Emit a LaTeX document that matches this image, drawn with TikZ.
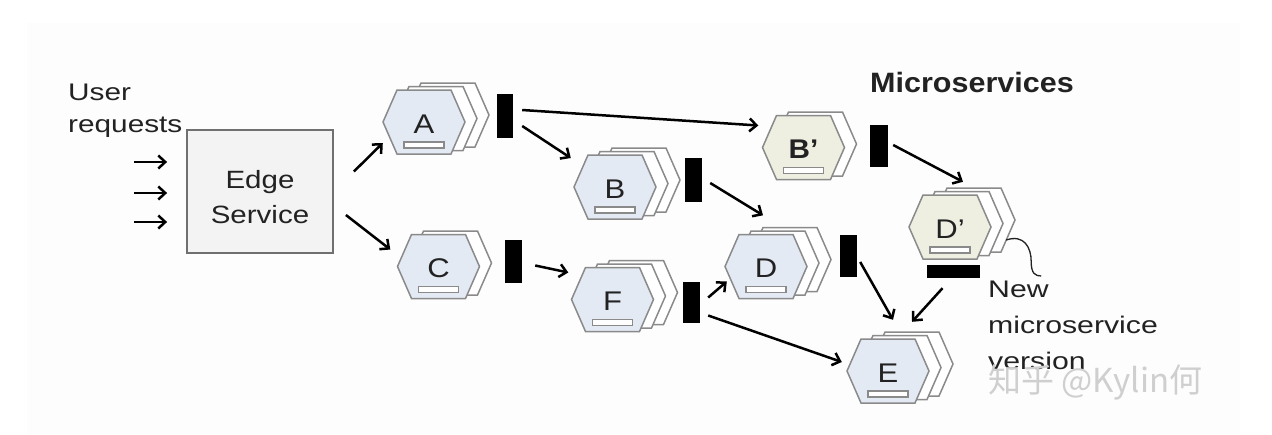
\documentclass[tikz,border=0pt]{standalone}
\usepackage{graphicx}
\usepackage{fontspec}
\setmainfont{Liberation Sans}
\newfontfamily\cjk{Noto Sans CJK SC}
\usetikzlibrary{arrows.meta,calc}
\definecolor{hexline}{HTML}{8A8A8A}
\definecolor{hexblue}{HTML}{E3EAF4}
\definecolor{hexbeige}{HTML}{EEEFE1}
\definecolor{edgefill}{HTML}{F3F3F3}
\definecolor{edgeline}{HTML}{707070}
\definecolor{wmgray}{HTML}{CFCFCF}
\definecolor{txt}{HTML}{222222}
\definecolor{bgc}{HTML}{FDFDFD}
\newcommand{\sx}[2][1.24]{\scalebox{#1}[1]{#2}}
\newcommand{\hexat}[3]{\filldraw[fill=#3,draw=hexline,line width=1.5] (#1-41,#2) -- (#1-27,#2-32) -- (#1+27,#2-32) -- (#1+41,#2) -- (#1+27,#2+32) -- (#1-27,#2+32) -- cycle;}
\newcommand{\hexstack}[6]{%
  \ifnum#4>2 \hexat{#2+24}{#3-7}{white}\fi
  \ifnum#4>1 \hexat{#2+12}{#3-3.5}{white}\fi
  \hexat{#2}{#3}{#5}
  \filldraw[fill=white,draw=hexline,line width=1.6] (#2-20,#3+20) rectangle (#2+20,#3+26);
  \node[hexbox] (#1) at (#2,#3) {};
  \node[hexlabel] (#1lab) at (#2,#3+2) {#6};}
\tikzset{
  hexbox/.style={inner sep=0, minimum width=82, minimum height=64},
  hexlabel/.style={inner sep=0, font=\fontsize{27}{27}\selectfont, text=txt},
  barnode/.style={fill=black, inner sep=0},
  arr/.style={line width=2.5, -{Straight Barb[length=7,width=13]}},
  plain/.style={font=\fontsize{24}{24}\selectfont, text=txt, inner sep=0, anchor=base west},
}
\begin{document}
\begin{tikzpicture}[x=1pt,y=-1pt]
\useasboundingbox (0,0) rectangle (1272,434);
\fill[white] (0,0) rectangle (1272,434);
\fill[bgc] (27,23) rectangle (1240,434);

% texts
\node[plain] (user) at (68,100) {\sx{User}};
\node[plain] (req) at (68,132) {\sx{requests}};
\node[plain, font=\fontsize{28}{28}\selectfont\bfseries] (micro) at (870,92) {\sx[1.09]{Microservices}};

% edge service
\node[draw=edgeline, fill=edgefill, line width=1.8, minimum width=146, minimum height=123, inner sep=0] (edge) at (260,191.5) {};
\node[font=\fontsize{25}{25}\selectfont, text=txt, inner sep=0, anchor=base] (edgeA) at (260,188) {\sx[1.18]{Edge}};
\node[font=\fontsize{25}{25}\selectfont, text=txt, inner sep=0, anchor=base] (edgeB) at (260,223) {\sx[1.18]{Service}};

% hex stacks
\hexstack{A}{424}{122}{3}{hexblue}{\sx[1.15]{A}}
\hexstack{B}{615}{187}{3}{hexblue}{\sx[1.15]{B}}
\hexstack{C}{438.5}{266.5}{2}{hexblue}{\sx[1.15]{C}}
\hexstack{F}{612.5}{299.5}{3}{hexblue}{\sx[1.15]{F}}
\hexstack{D}{766}{266.5}{3}{hexblue}{\sx[1.15]{D}}
\hexstack{Bp}{803.5}{147.5}{2}{hexbeige}{\sx[1.1]{\bfseries B'}}
\hexstack{Dp}{950}{227}{3}{hexbeige}{\sx[1.15]{D'}}
\hexstack{E}{888}{371}{3}{hexblue}{\sx[1.15]{E}}

% bars
\node[barnode, minimum width=16, minimum height=44] (barA) at (505,116) {};
\node[barnode, minimum width=17, minimum height=44] (barB) at (693.5,180) {};
\node[barnode, minimum width=17, minimum height=43] (barC) at (513.5,261.5) {};
\node[barnode, minimum width=17, minimum height=41] (barF) at (691.5,302.5) {};
\node[barnode, minimum width=17, minimum height=42] (barD) at (848.5,256) {};
\node[barnode, minimum width=18, minimum height=42] (barBp) at (879,146) {};
\node[barnode, minimum width=53, minimum height=13] (barDp) at (953.5,271.5) {};

% user request arrows
\foreach \dy in {-29.5,1.5,30.5}
  \draw[arr] ($(edge.west)+(-52,\dy)$) -- ($(edge.west)+(-19,\dy)$);

% connectors
\draw[arr] ($(edge.east)+(20,-20)$) -- ($(A.west)+(0,21)$);
\draw[arr] ($(edge.east)+(12,23.5)$) -- ($(C.west)+(-7,-17)$);
\draw[arr] ($(barA.east)+(9,-6)$) -- ($(Bp.west)+(-4,-22)$);
\draw[arr] ($(barA.east)+(9,10)$) -- ($(B.west)+(-3,-29)$);
\draw[arr] ($(barB.east)+(8,3)$) -- ($(D.north)+(-3,-19)$);
\draw[arr] ($(barC.east)+(13,4)$) -- ($(F.west)+(-3,-27)$);
\draw[arr] ($(barF.east)+(8,-5)$) -- ($(D.west)+(2,15)$);
\draw[arr] ($(barF.east)+(8,13)$) -- ($(E.west)+(-5,-9)$);
\draw[arr] ($(barD.east)+(3,6)$) -- ($(E.north)+(5,-19)$);
\draw[arr] ($(barDp.south)+(-11,10)$) -- ($(E.north)+(24,-17)$);
\draw[arr] ($(barBp.east)+(5,-1)$) -- ($(Dp.north)+(13,-13)$);

% curl to label
\coordinate (curlS) at ($(Dp.east)+(15,13)$);
\coordinate (curlE) at ($(Dp.east)+(50,49)$);
\draw[line width=1.3, draw=txt] (curlS) .. controls +(18,-6) and +(0,-14) .. ($(curlS)!0.6!(curlE)+(4,0)$) .. controls +(0,12) and +(-6,0) .. (curlE);

% new microservice version
\node[plain] (nm1) at (988,297) {\sx[1.26]{New}};
\node[plain] (nm2) at (988,333) {\sx[1.26]{microservice}};
\node[plain] (nm3) at (988,369) {\sx[1.26]{version}};

% watermark
\node[inner sep=0, anchor=base west, text=wmgray, font=\cjk\fontsize{33}{33}\selectfont] (wm) at (988,392) {知乎 @Kylin何};
\end{tikzpicture}
\end{document}
